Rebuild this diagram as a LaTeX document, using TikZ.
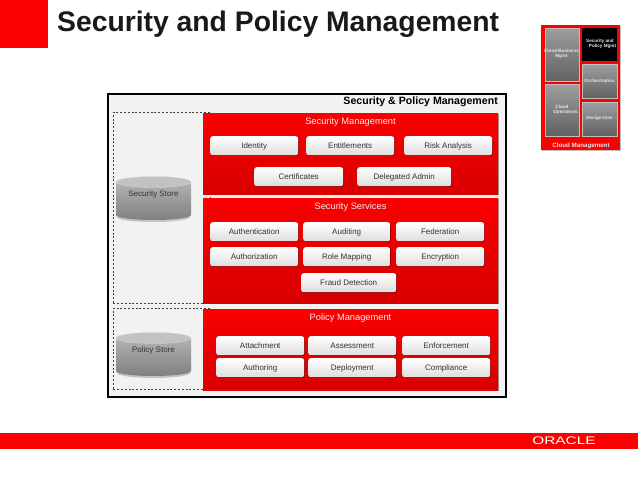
\documentclass[tikz,border=0pt]{standalone}
\usepackage{fontspec}
\setmainfont{Liberation Sans}
\usetikzlibrary{shadows,positioning}
\definecolor{orared}{HTML}{FA0000}
\definecolor{paneldark}{HTML}{D80000}
\definecolor{inktext}{HTML}{333333}
\tikzset{
 x=1pt,y=-1pt,
 pill/.style={rounded corners=2.5pt,top color=white,bottom color=black!13,
   drop shadow={shadow xshift=0.6pt,shadow yshift=-0.8pt,opacity=.35,fill=black},
   text=inktext,font=\fontsize{8}{10}\selectfont,align=center,inner sep=0pt,text height=7.4pt,text depth=1pt},
 panel/.style={top color=orared,bottom color=paneldark,
   drop shadow={shadow xshift=1pt,shadow yshift=-1pt,opacity=.35,fill=black},inner sep=0pt},
 paneltitle/.style={text=white!92!red,font=\fontsize{9.3}{11}\selectfont,inner sep=0pt,text height=6.7pt,text depth=2pt},
 dashbox/.style={draw=black!75,dash pattern=on 2pt off 1.8pt,line width=.6pt},
 thumb/.style={top color=black!38,bottom color=black!62,draw=black!25,line width=.3pt,inner sep=0pt},
 thumbtxt/.style={text=white!90!black,font=\bfseries\fontsize{4.6}{5.4}\selectfont,align=center,inner sep=0pt},
}
% \boxat{name}{x1}{y1}{x2}{y2}{style}{text}
\newcommand{\boxat}[7]{\node[#6,minimum width=#4pt-#2pt,minimum height=#5pt-#3pt,anchor=north west] (#1) at (#2,#3) {#7};}
\newcommand{\pillat}[6]{\boxat{#1}{#2}{#3}{#4}{#5}{pill}{#6}}
\newcommand{\storecyl}[6]{%
 % name, x1, y1, x2, y2, label
 \fill[black!28,opacity=.8] (#2+1,#3+6) -- (#2+1,#5-4) arc[start angle=180,end angle=0,x radius=(#4-#2)/2-1,y radius=5] -- (#4-1,#3+6) -- cycle;
 \path[top color=black!30,bottom color=black!50] (#2,#3+6) -- (#2,#5-6) arc[start angle=180,end angle=0,x radius=(#4-#2)/2,y radius=5] -- (#4,#3+6) -- cycle;
 \path[fill=black!24,draw=black!15,line width=.3pt] ({(#2+#4)/2},#3+6) ellipse[x radius=(#4-#2)/2,y radius=5.5];
 \node[text=inktext,font=\fontsize{8}{10}\selectfont,inner sep=0pt] (#1) at ({(#2+#4)/2},{#3+18.4}) {#6};}
\begin{document}
\begin{tikzpicture}
\useasboundingbox (0,0) rectangle (638,478);
\fill[white] (0,0) rectangle (638,478);
% header
\fill[orared] (0,0) rectangle (48,48);
\node[anchor=base west,inner sep=0pt,font=\bfseries\fontsize{28.3}{32}\selectfont,text=black!90] (title) at (57,31.5) {Security and Policy Management};
% footer
\fill[orared] (0,433) rectangle (638,449);
\node[inner sep=0pt,text=white,font=\fontsize{11}{12}\selectfont,xscale=1.4] (oracle) at (564,441) {ORACLE};
% main frame
\node[draw=black,line width=1.6pt,fill=black!5,minimum width=398pt,minimum height=303pt,anchor=north west,inner sep=0pt] (frame) at (107,93) {};
\node[anchor=base east,inner sep=0pt,font=\bfseries\fontsize{10.6}{12}\selectfont,text=black] (frametitle) at (498,105) {Security \& Policy Management};
% dashed
\boxat{dashA}{113}{112}{210}{303}{dashbox}{}
\boxat{dashB}{113}{308}{210}{389}{dashbox}{}
% panels
\boxat{panelA}{203}{113}{498}{194}{panel}{}
\boxat{panelB}{203}{198}{498}{303}{panel}{}
\boxat{panelC}{203}{309}{498}{390}{panel}{}
\node[paneltitle] (tA) at (350.5,122.5) {Security Management};
\node[paneltitle] (tB) at (350.5,207.5) {Security Services};
\node[paneltitle] (tC) at (350.5,318.5) {Policy Management};
% security management
\pillat{identity}{210}{136}{298}{155}{Identity}
\pillat{entitle}{306}{136}{394}{155}{Entitlements}
\pillat{risk}{404}{136}{492}{155}{Risk Analysis}
\pillat{certs}{254}{167}{343}{186}{Certificates}
\pillat{deleg}{357}{167}{451}{186}{Delegated Admin}
% services
\pillat{authn}{210}{222}{298}{241}{Authentication}
\pillat{audit}{303}{222}{390}{241}{Auditing}
\pillat{feder}{396}{222}{484}{241}{Federation}
\pillat{authz}{210}{247}{298}{266}{Authorization}
\pillat{rolem}{303}{247}{390}{266}{Role Mapping}
\pillat{encr}{396}{247}{484}{266}{Encryption}
\pillat{fraud}{301}{273}{396}{292}{Fraud Detection}
% policy
\pillat{attach}{216}{336}{304}{355}{Attachment}
\pillat{assess}{308}{336}{396}{355}{Assessment}
\pillat{enforce}{402}{336}{490}{355}{Enforcement}
\pillat{author}{216}{358}{304}{377}{Authoring}
\pillat{deploy}{308}{358}{396}{377}{Deployment}
\pillat{comply}{402}{358}{490}{377}{Compliance}
% stores
\storecyl{secstore}{116}{176}{191}{221}{Security Store}
\storecyl{polstore}{116}{332}{191}{377}{Policy Store}
% thumbnail
\boxat{thOuter}{541}{25}{620}{150}{fill=orared,inner sep=0pt,drop shadow={shadow xshift=.5pt,shadow yshift=-.5pt,opacity=.25,fill=black}}{}
\boxat{thA}{545}{28}{579}{81}{thumb}{}
\boxat{thB}{545}{84}{579}{136}{thumb}{}
\boxat{thC}{582}{28}{617}{61}{fill=black,inner sep=0pt}{}
\boxat{thD}{582}{64}{617}{98}{thumb}{}
\boxat{thE}{582}{102}{617}{136}{thumb}{}
\node[thumbtxt] (lA) at (561.5,54) {Cloud Business\\Mgmt};
\node[thumbtxt] (lB) at (562,110) {Cloud\\\hspace*{7pt}Operations};
\node[thumbtxt] (lC) at (600,44) {Security and\\\hspace*{5pt}Policy Mgmt};
\node[thumbtxt] (lD) at (599.5,81) {Orchestration};
\node[thumbtxt] (lE) at (599.5,118.5) {Design-time};
\node[thumbtxt,font=\bfseries\fontsize{6.2}{7}\selectfont] (lF) at (581,146) {Cloud Management};
\end{tikzpicture}
\end{document}
